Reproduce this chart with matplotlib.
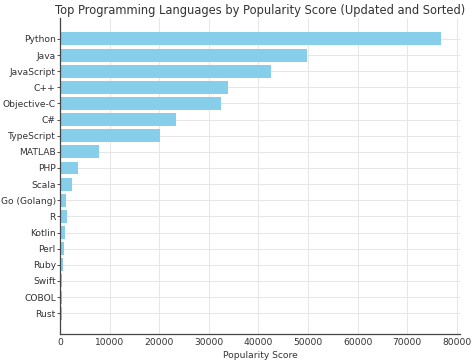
import matplotlib
matplotlib.use("Agg")
import matplotlib.pyplot as plt

languages = ["Python", "Java", "JavaScript", "C++", "Objective-C", "C#", "TypeScript",
             "MATLAB", "PHP", "Scala", "Go (Golang)", "R", "Kotlin", "Perl", "Ruby",
             "Swift", "COBOL", "Rust"]
scores = [76800, 49700, 42600, 33900, 32400, 23400, 20100, 7800, 3700, 2500,
          1250, 1350, 1000, 800, 600, 470, 400, 330]

fig = plt.figure(figsize=(4.74, 3.62), dpi=100)
ax = fig.add_axes([0.1266, 0.0773, 0.8439, 0.8727])
ax.barh(languages, scores, color="skyblue", height=0.8, zorder=2)
ax.invert_yaxis()
ax.grid(True, color="#e6e6e6", linewidth=0.7, zorder=0)
ax.set_axisbelow(True)
for s in ["top", "right"]:
    ax.spines[s].set_visible(False)
for s in ["left", "bottom"]:
    ax.spines[s].set_color("#444444")
    ax.spines[s].set_linewidth(0.9)
ax.tick_params(axis="both", labelsize=6.6, colors="#333333", width=0.6)
ax.tick_params(axis="y", length=2, pad=1)
ax.tick_params(axis="x", length=0, pad=3)
ax.set_xlabel("Popularity Score", fontsize=6.6, color="#333333", labelpad=3)
ax.set_title("Top Programming Languages by Popularity Score (Updated and Sorted)",
             fontsize=8.3, color="#333333", pad=3)
fig.savefig("out.png", dpi=100)
